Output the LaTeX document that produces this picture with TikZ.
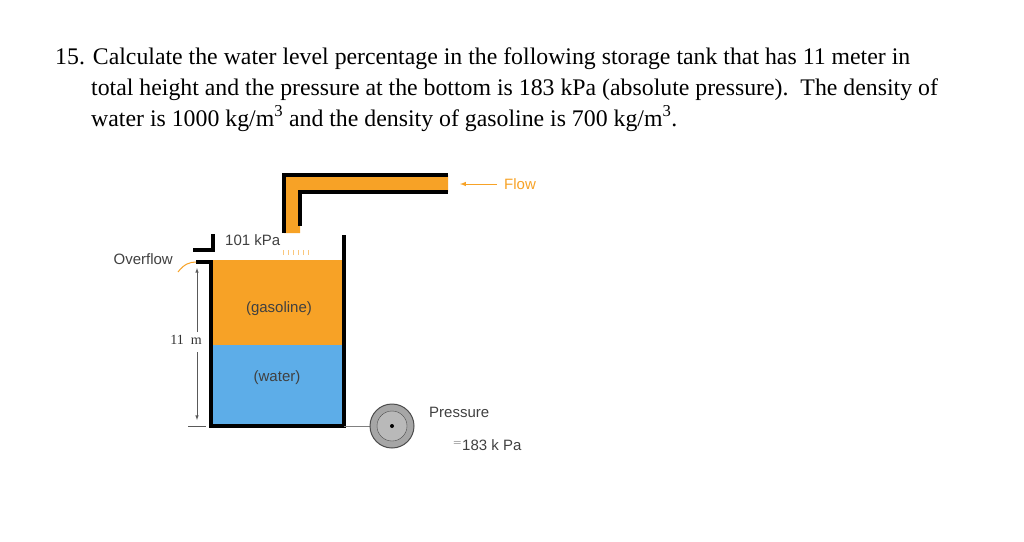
\documentclass[tikz,border=0pt]{standalone}
\usepackage{fontspec}
\setmainfont{Liberation Serif}
\newfontfamily\lab{Liberation Sans}
\definecolor{gas}{HTML}{F7A226}
\definecolor{wat}{HTML}{5DADE8}
\begin{document}
\begin{tikzpicture}[x=1pt,y=-1pt,
  wall/.style={line width=4pt},
  hdr/.style={anchor=base west,font=\fontsize{23.8}{26}\selectfont,inner sep=0},
  lbl/.style={font=\lab\fontsize{15}{17}\selectfont,text=black!75,inner sep=1pt}]
\useasboundingbox (0,0) rectangle (1024,541);
% header
\node[hdr] (t1) at (55,64) {15. Calculate the water level percentage in the following storage tank that has 11 meter in};
\node[hdr] (t2) at (91,95) {total height and the pressure at the bottom is 183 kPa (absolute pressure).\ \ The density of};
\node[hdr] (t3) at (91,126) {water is 1000 kg/m\textsuperscript{3} and the density of gasoline is 700 kg/m\textsuperscript{3}.};
% liquids
\fill[gas] (211,260) rectangle (343,345);
\fill[wat] (211,345) rectangle (343,425);
% pipe
\fill[gas] (284,175) -- (448,175) -- (448,192) -- (300,192) -- (300,233) -- (284,233) -- cycle;
\draw[wall] (284,233) -- (284,175) -- (448,175);
\draw[wall] (300,226) -- (300,192) -- (448,192);
% spray
\foreach \xx in {283,288,...,308} \draw[gas!60,line width=0.6pt] (\xx,250) -- (\xx,255);
% tank
\draw[wall] (196,262) -- (211,262) -- (211,426) -- (344,426) -- (344,235);
\draw[wall] (193,250) -- (213,250) -- (213,234);
\draw[gas,line width=1pt] (178,272) .. controls (184,264) and (190,262) .. (196,262);
% dimension
\coordinate (d1) at (197,268);
\coordinate (d2) at (197,420);
\draw[gray!70!black,line width=0.6pt,-latex] (197,332) -- (d1);
\draw[gray!70!black,line width=0.6pt,-latex] (197,352) -- (d2);
\draw[gray!70!black,line width=0.6pt] (188,426) -- (206,426);
\node[font=\fontsize{14}{15}\selectfont,text=black!80] (h) at (186,340) {11\ \ m};
% gauge
\draw[gray,line width=1pt] (344,426) -- (372,426);
\node[circle,draw=gray!60!black,fill=gray!70,minimum size=44pt,inner sep=0,line width=1pt] (g) at (392,426) {};
\node[circle,draw=gray!60!black,fill=gray!55,minimum size=30pt,inner sep=0] (g2) at (392,426) {};
\fill (392,426) circle (2);
% labels
\node[lbl,anchor=west] (p1) at (224,240) {101 kPa};
\node[lbl,anchor=east] (ov) at (174,259) {Overflow};
\node[lbl] (gas) at (279,309) {(gasoline)};
\node[lbl] (wat) at (277,378) {(water)};
\node[lbl,anchor=west] (pr) at (428,412) {Pressure};
\node[lbl,anchor=west] (pv) at (452,445) {$^=$183 k Pa};
\node[lbl,anchor=west,text=gas] (fl) at (503,184) {Flow};
\coordinate (fa) at (497,184);
\coordinate (fb) at (460,184);
\draw[gas,line width=1pt,-latex] (fa) -- (fb);
\end{tikzpicture}
\end{document}
